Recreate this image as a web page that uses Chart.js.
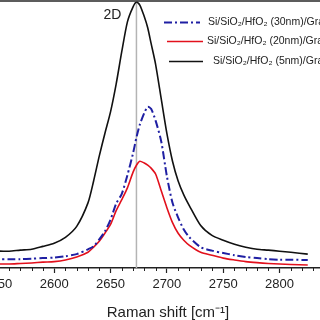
<!DOCTYPE html>
<html>
<head>
<meta charset="utf-8">
<script src="https://cdn.jsdelivr.net/npm/chart.js@4"></script>
<style>
  html, body { margin: 0; padding: 0; background: #fff; }
  #wrap { position: relative; width: 320px; height: 320px; overflow: hidden; background: #fff; }
  #wrap canvas { position: absolute; left: -60px; top: 0; }
</style>
</head>
<body>
<div id="wrap"><canvas id="raman" width="440" height="320"></canvas></div>
<script>
// Raman shift (cm-1) and intensities (a.u.)
const shift = [2530, 2540, 2550, 2560, 2570, 2580, 2590, 2600, 2610, 2620, 2630, 2635, 2640, 2645, 2650, 2655, 2660, 2665, 2670, 2673, 2676, 2680, 2683, 2686, 2690, 2695, 2700, 2705, 2710, 2715, 2720, 2730, 2740, 2750, 2760, 2770, 2780, 2790, 2800, 2810, 2825];
const hfo2_30nm = [3.0, 3.0, 3.3, 3.3, 3.3, 3.5, 3.7, 3.9, 4.4, 5.2, 7.0, 8.1, 10.7, 13.7, 18.1, 24.1, 27.8, 34.8, 43.0, 48.9, 53.7, 58.1, 60.4, 59.6, 55.2, 47.4, 34.4, 24.4, 18.9, 14.4, 11.5, 7.8, 6.5, 5.6, 4.8, 4.1, 3.7, 3.3, 3.1, 3.1, 3.0];
const hfo2_20nm = [1.1, 1.3, 1.5, 1.5, 1.7, 1.9, 2.2, 2.4, 3.0, 4.1, 5.9, 7.8, 10.0, 13.0, 16.3, 21.5, 25.6, 30.0, 35.9, 38.5, 40.0, 39.3, 38.5, 37.4, 35.2, 28.9, 22.6, 17.0, 13.0, 10.4, 8.5, 5.9, 4.8, 3.7, 3.0, 2.4, 2.0, 1.7, 1.5, 1.3, 1.1];
const hfo2_5nm = [5.6, 5.9, 6.3, 6.3, 6.7, 7.0, 8.1, 9.3, 11.5, 15.6, 24.4, 32.6, 41.9, 50.4, 58.5, 68.9, 81.1, 92.2, 97.8, 99.6, 98.5, 94.1, 90.0, 84.1, 76.3, 63.3, 50.4, 40.0, 32.6, 27.4, 23.3, 15.9, 12.2, 10.4, 8.9, 7.8, 7.0, 6.7, 6.3, 5.9, 5.2];
const seriesLabels = [
    "Si/SiO\u2082/HfO\u2082 (30nm)/Graphene",
    "Si/SiO\u2082/HfO\u2082 (20nm)/Graphene",
    "Si/SiO\u2082/HfO\u2082 (5nm)/Graphene"
];
const xTicks = [2550, 2600, 2650, 2700, 2750, 2800];
const peakLabel = "2D";
const peakPosition = 2673;

const CANVAS_SHIFT = 60; // canvas sits 60px left of the visible frame
const labelFont = "'Liberation Sans Narrow', 'Arial Narrow', 'Liberation Sans', Arial, sans-serif";
const textFont = "'Liberation Sans', Arial, sans-serif";

function toPoints(values) {
    return values.map((v, i) => ({ x: shift[i], y: v }));
}

// small ticks every 10 cm-1 between the labelled ones
const minorTicks = {
    id: "minorTicks",
    afterDraw(chart) {
        const sx = chart.scales.x;
        const ctx = chart.ctx;
        ctx.save();
        ctx.strokeStyle = "#222";
        ctx.lineWidth = 1;
        for (let v = Math.ceil(sx.min / 10) * 10; v <= sx.max; v += 10) {
            if (v % 50 === 0) continue;
            const px = Math.round(sx.getPixelForValue(v)) + 0.5;
            ctx.beginPath();
            ctx.moveTo(px, sx.top);
            ctx.lineTo(px, sx.top + 3);
            ctx.stroke();
        }
        ctx.restore();
    }
};

// legend inside the plot plus the "2D" label
const insideLegend = {
    id: "insideLegend",
    afterDatasetsDraw(chart) {
        const ctx = chart.ctx;
        const rows = [
            { x0: 164, x1: 200, tx: 208, y: 22 },
            { x0: 167, x1: 203, tx: 207, y: 41 },
            { x0: 169, x1: 203, tx: 213, y: 61 }
        ];
        ctx.save();
        rows.forEach((r, i) => {
            const ds = chart.data.datasets[i];
            ctx.strokeStyle = ds.borderColor;
            ctx.lineWidth = ds.borderWidth;
            ctx.setLineDash(ds.borderDash || []);
            ctx.beginPath();
            ctx.moveTo(r.x0 + CANVAS_SHIFT, r.y + 0.5);
            ctx.lineTo(r.x1 + CANVAS_SHIFT, r.y + 0.5);
            ctx.stroke();
            ctx.setLineDash([]);
            ctx.fillStyle = "#222";
            ctx.font = "10.5px " + textFont;
            ctx.textBaseline = "middle";
            ctx.textAlign = "left";
            ctx.fillText(ds.label, r.tx + CANVAS_SHIFT, r.y);
        });
        const sx = chart.scales.x;
        ctx.font = "14px " + textFont;
        ctx.textAlign = "center";
        ctx.fillText(peakLabel, sx.getPixelForValue(peakPosition) - 24, 15);
        ctx.restore();
    }
};

const ctx = document.getElementById("raman").getContext("2d");
const ramanChart = new Chart(ctx, {
    type: "line",
    data: {
        datasets: [
            {
                label: seriesLabels[0],
                data: toPoints(hfo2_30nm),
                borderColor: "#1f1fa3",
                borderWidth: 2,
                borderDash: [8, 3, 2, 3],
                tension: 0.25
            },
            {
                label: seriesLabels[1],
                data: toPoints(hfo2_20nm),
                borderColor: "#e2101c",
                borderWidth: 1.6,
                tension: 0.25
            },
            {
                label: seriesLabels[2],
                data: toPoints(hfo2_5nm),
                borderColor: "#111",
                borderWidth: 1.6,
                tension: 0.25
            },
            {
                label: "peak",
                data: [{ x: peakPosition, y: 0 }, { x: peakPosition, y: 100 }],
                borderColor: "#b4b4b4",
                borderWidth: 1.5
            }
        ]
    },
    options: {
        responsive: false,
        animation: false,
        devicePixelRatio: 1,
        layout: { padding: { left: 24, right: 8, top: 1, bottom: 0 } },
        elements: { point: { radius: 0 } },
        plugins: { legend: { display: false }, tooltip: { enabled: false } },
        scales: {
            x: {
                type: "linear",
                position: "bottom",
                min: 2520,
                max: 2882,
                afterBuildTicks: (scale) => { scale.ticks = xTicks.map(v => ({ value: v })); },
                ticks: {
                    color: "#222",
                    padding: 4,
                    maxRotation: 0,
                    autoSkip: false,
                    font: { family: labelFont, size: 13 },
                    callback: (v) => String(v)
                },
                grid: { drawOnChartArea: false, drawTicks: true, tickLength: 5, tickColor: "#222", tickWidth: 1.2 },
                border: { display: true, color: "#222", width: 1.5 },
                title: {
                    display: true,
                    text: "Raman shift [cm\u207B\u00B9]",
                    color: "#222",
                    font: { family: textFont, size: 15, lineHeight: 1 },
                    padding: { top: 8.4, bottom: 0 }
                }
            },
            x2: {
                type: "linear",
                position: "top",
                min: 2520,
                max: 2882,
                ticks: { display: false },
                grid: { display: false, drawTicks: false },
                border: { display: true, color: "#5c5c5c", width: 2 }
            },
            y: { min: 0, max: 100, display: false }
        }
    },
    plugins: [minorTicks, insideLegend]
});
</script>
</body>
</html>
